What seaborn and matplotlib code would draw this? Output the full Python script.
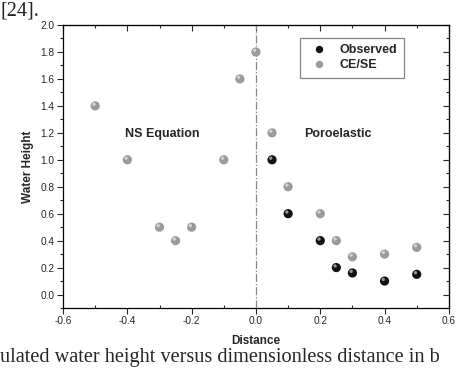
import matplotlib
matplotlib.use("Agg")
import matplotlib.pyplot as plt
import seaborn as sns
import pandas as pd
from matplotlib.ticker import MultipleLocator

# CE/SE simulated water height
cese_x = [-0.5, -0.4, -0.3, -0.25, -0.2, -0.1, -0.05, 0.0, 0.05, 0.1, 0.2, 0.25, 0.3, 0.4, 0.5]
cese_y = [1.4, 1.0, 0.5, 0.4, 0.5, 1.0, 1.6, 1.8, 1.2, 0.8, 0.6, 0.4, 0.28, 0.30, 0.35]
# observed water height
obs_x = [0.05, 0.1, 0.2, 0.25, 0.3, 0.4, 0.5]
obs_y = [1.0, 0.6, 0.4, 0.2, 0.16, 0.1, 0.15]

df = pd.concat([
    pd.DataFrame({"Distance": obs_x, "Water Height": obs_y, "src": "Observed"}),
    pd.DataFrame({"Distance": cese_x, "Water Height": cese_y, "src": "CE/SE"}),
])

sns.set_style("ticks")
plt.rcParams["font.family"] = ["Liberation Sans", "DejaVu Sans"]

fig = plt.figure(figsize=(4.74, 3.68), dpi=100)
ax = fig.add_axes([0.133, 0.163, 0.814, 0.769])

ax.axvline(0, color="#888888", lw=0.9, ls="-.", zorder=1)

sns.scatterplot(data=df, x="Distance", y="Water Height", hue="src",
                palette={"Observed": "#111111", "CE/SE": "#9a9a9a"},
                s=44, edgecolor="none", ax=ax, zorder=3)
# little highlight to fake the shaded balls
ax.scatter(df["Distance"] - 0.004, df["Water Height"] + 0.012, s=6,
           color="white", alpha=0.55, edgecolor="none", zorder=4)

ax.set_xlim(-0.6, 0.6)
ax.set_ylim(-0.1, 2.0)
ax.xaxis.set_major_locator(MultipleLocator(0.2))
ax.xaxis.set_minor_locator(MultipleLocator(0.1))
ax.yaxis.set_major_locator(MultipleLocator(0.2))
ax.yaxis.set_minor_locator(MultipleLocator(0.1))
ax.set_xticklabels([f"{v:.1f}" for v in ax.get_xticks()])
ax.set_yticklabels([f"{v:.1f}" for v in ax.get_yticks()])

ax.tick_params(axis="both", which="major", labelsize=7.3, length=4, width=0.8,
               direction="out", top=False, right=False, pad=2)
ax.tick_params(axis="x", which="minor", direction="in", length=2.5, width=0.8)
ax.tick_params(axis="y", which="minor", direction="out", length=2.5, width=0.8)
for s in ax.spines.values():
    s.set_linewidth(0.9)
    s.set_color("black")

# inward ticks on top and right, like the Origin style
top = ax.secondary_xaxis("top")
top.xaxis.set_major_locator(MultipleLocator(0.2))
top.xaxis.set_minor_locator(MultipleLocator(0.1))
top.tick_params(which="major", direction="in", length=4, width=0.8, labeltop=False)
top.tick_params(which="minor", direction="in", length=2.5, width=0.8)
right = ax.secondary_yaxis("right")
right.yaxis.set_major_locator(MultipleLocator(0.2))
right.yaxis.set_minor_locator(MultipleLocator(0.1))
right.tick_params(which="major", direction="in", length=4, width=0.8, labelright=False)
right.tick_params(which="minor", direction="in", length=2.5, width=0.8)

ax.set_xlabel("Distance", fontsize=8.5, fontweight="bold", labelpad=6)
ax.set_ylabel("Water Height", fontsize=8.5, fontweight="bold", labelpad=5)

ax.text(-0.29, 1.19, "NS Equation", fontsize=9, fontweight="bold",
        ha="center", va="center")
ax.text(0.255, 1.19, "Poroelastic", fontsize=9, fontweight="bold",
        ha="center", va="center")

leg = ax.legend(loc="upper right", bbox_to_anchor=(0.883, 0.954), frameon=True,
                fancybox=False, prop={"weight": "bold", "size": 9},
                handletextpad=0.7, borderpad=0.5, labelspacing=0.25,
                borderaxespad=0, markerscale=0.8)
leg.get_frame().set_edgecolor("#666666")
leg.get_frame().set_linewidth(0.9)

fig.text(0.0, 0.995, "[24].", family=["Liberation Serif"], fontsize=14.5,
         va="top", ha="left")
fig.text(0.0, 0.016, "ulated water height versus dimensionless distance in b",
         family=["Liberation Serif"], fontsize=14.6, va="baseline", ha="left")

fig.savefig("out.png", dpi=100)
